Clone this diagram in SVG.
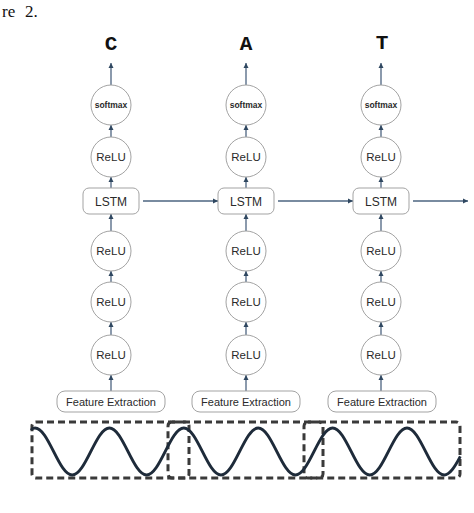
<svg xmlns="http://www.w3.org/2000/svg" width="474" height="513" viewBox="0 0 474 513">
<style>
.circ{fill:#fff;stroke:#a3a3a3;stroke-width:1}
.box{fill:#fff;stroke:#a3a3a3;stroke-width:1}
.lbl{font-family:"Liberation Sans",Arial,sans-serif;fill:#2a2a2a;text-anchor:middle}
.sm{font-size:8.5px;font-weight:bold}
.relu{font-size:11.5px}
.lstm{font-size:12px}
.fe{font-size:11px}
.out{font-family:"Liberation Mono","Courier New",monospace;font-weight:bold;font-size:21px;fill:#111;text-anchor:middle}
.arr{stroke:#4d6480;stroke-width:1.3;fill:none;marker-end:url(#ah)}
.win{fill:none;stroke:#3a3a3a;stroke-width:3;stroke-dasharray:7 4}
.wave{fill:none;stroke:#1e2b3a;stroke-width:2.8}
.cap{font-family:"Liberation Serif","Times New Roman",serif;font-size:17px;fill:#111}
</style>
<defs>
<marker id="ah" markerWidth="6" markerHeight="6" refX="5" refY="3" orient="auto" markerUnits="userSpaceOnUse">
<path d="M0,0.5 L5,3 L0,5.5 z" fill="#2f4760"/>
</marker>
</defs>
<rect width="474" height="513" fill="#fff"/>
<text class="cap" x="2" y="17">re<tspan x="25">2.</tspan></text>

<g id="connectors">
<line class="arr" x1="111" y1="85" x2="111" y2="63"/>
<line class="arr" x1="111" y1="137" x2="111" y2="125"/>
<line class="arr" x1="111" y1="188" x2="111" y2="177"/>
<line class="arr" x1="111" y1="231" x2="111" y2="214"/>
<line class="arr" x1="111" y1="282" x2="111" y2="271"/>
<line class="arr" x1="111" y1="335" x2="111" y2="322"/>
<line class="arr" x1="111" y1="391" x2="111" y2="375"/>
<line class="arr" x1="246" y1="85" x2="246" y2="63"/>
<line class="arr" x1="246" y1="137" x2="246" y2="125"/>
<line class="arr" x1="246" y1="188" x2="246" y2="177"/>
<line class="arr" x1="246" y1="231" x2="246" y2="214"/>
<line class="arr" x1="246" y1="282" x2="246" y2="271"/>
<line class="arr" x1="246" y1="335" x2="246" y2="322"/>
<line class="arr" x1="246" y1="391" x2="246" y2="375"/>
<line class="arr" x1="381" y1="85" x2="381" y2="63"/>
<line class="arr" x1="381" y1="137" x2="381" y2="125"/>
<line class="arr" x1="381" y1="188" x2="381" y2="177"/>
<line class="arr" x1="381" y1="231" x2="381" y2="214"/>
<line class="arr" x1="381" y1="282" x2="381" y2="271"/>
<line class="arr" x1="381" y1="335" x2="381" y2="322"/>
<line class="arr" x1="381" y1="391" x2="381" y2="375"/>
<line class="arr" x1="143" y1="201" x2="218" y2="201"/>
<line class="arr" x1="278" y1="201" x2="353" y2="201"/>
<line class="arr" x1="413" y1="201" x2="468" y2="201"/>
</g>

<g id="out-C"><text class="out" x="111" y="50">C</text></g>
<g id="out-A"><text class="out" x="246" y="50">A</text></g>
<g id="out-T"><text class="out" x="382" y="49">T</text></g>

<g id="softmax1"><circle class="circ" cx="111" cy="105" r="20"/><text class="lbl sm" x="111" y="108">softmax</text></g>
<g id="softmax2"><circle class="circ" cx="246" cy="105" r="20"/><text class="lbl sm" x="246" y="108">softmax</text></g>
<g id="softmax3"><circle class="circ" cx="381" cy="105" r="20"/><text class="lbl sm" x="381" y="108">softmax</text></g>

<g id="relu1a"><circle class="circ" cx="111" cy="157" r="20"/><text class="lbl relu" x="111" y="161">ReLU</text></g>
<g id="relu2a"><circle class="circ" cx="246" cy="157" r="20"/><text class="lbl relu" x="246" y="161">ReLU</text></g>
<g id="relu3a"><circle class="circ" cx="381" cy="157" r="20"/><text class="lbl relu" x="381" y="161">ReLU</text></g>

<g id="lstm1"><rect class="box" x="83" y="188" width="56" height="26" rx="6"/><text class="lbl lstm" x="111" y="205.5">LSTM</text></g>
<g id="lstm2"><rect class="box" x="218" y="188" width="56" height="26" rx="6"/><text class="lbl lstm" x="246" y="205.5">LSTM</text></g>
<g id="lstm3"><rect class="box" x="353" y="188" width="56" height="26" rx="6"/><text class="lbl lstm" x="381" y="205.5">LSTM</text></g>

<g id="relu1b"><circle class="circ" cx="111" cy="251" r="20"/><text class="lbl relu" x="111" y="255">ReLU</text></g>
<g id="relu2b"><circle class="circ" cx="246" cy="251" r="20"/><text class="lbl relu" x="246" y="255">ReLU</text></g>
<g id="relu3b"><circle class="circ" cx="381" cy="251" r="20"/><text class="lbl relu" x="381" y="255">ReLU</text></g>

<g id="relu1c"><circle class="circ" cx="111" cy="302" r="20"/><text class="lbl relu" x="111" y="306">ReLU</text></g>
<g id="relu2c"><circle class="circ" cx="246" cy="302" r="20"/><text class="lbl relu" x="246" y="306">ReLU</text></g>
<g id="relu3c"><circle class="circ" cx="381" cy="302" r="20"/><text class="lbl relu" x="381" y="306">ReLU</text></g>

<g id="relu1d"><circle class="circ" cx="111" cy="355" r="20"/><text class="lbl relu" x="111" y="359">ReLU</text></g>
<g id="relu2d"><circle class="circ" cx="246" cy="355" r="20"/><text class="lbl relu" x="246" y="359">ReLU</text></g>
<g id="relu3d"><circle class="circ" cx="381" cy="355" r="20"/><text class="lbl relu" x="381" y="359">ReLU</text></g>

<g id="fe1"><rect class="box" x="57" y="391" width="108" height="21" rx="8"/><text class="lbl fe" x="111" y="405.5">Feature Extraction</text></g>
<g id="fe2"><rect class="box" x="192" y="391" width="108" height="21" rx="8"/><text class="lbl fe" x="246" y="405.5">Feature Extraction</text></g>
<g id="fe3"><rect class="box" x="328" y="391" width="108" height="21" rx="8"/><text class="lbl fe" x="382" y="405.5">Feature Extraction</text></g>

<g id="signal">
<rect class="win" x="32" y="422" width="157" height="56" rx="4"/>
<rect class="win" x="168" y="422" width="155" height="56" rx="4"/>
<rect class="win" x="304" y="422" width="156" height="56" rx="4"/>
<path class="wave" d="M31,430 Q32.5,428 35,428 C48.5,428 58.7,475 72.2,475 C85.7,475 95.9,428 109.4,428 C122.9,428 133.1,475 146.6,475 C160.1,475 170.3,428 183.8,428 C197.3,428 207.5,475 221,475 C234.5,475 244.7,428 258.2,428 C271.7,428 281.9,475 295.4,475 C308.9,475 319.1,428 332.6,428 C346.1,428 356.3,475 369.8,475 C383.3,475 393.5,428 407,428 C420.5,428 430.7,475 444.2,475 C450,475 455.2,466.3 460.3,456.4"/>
</g>
</svg>
